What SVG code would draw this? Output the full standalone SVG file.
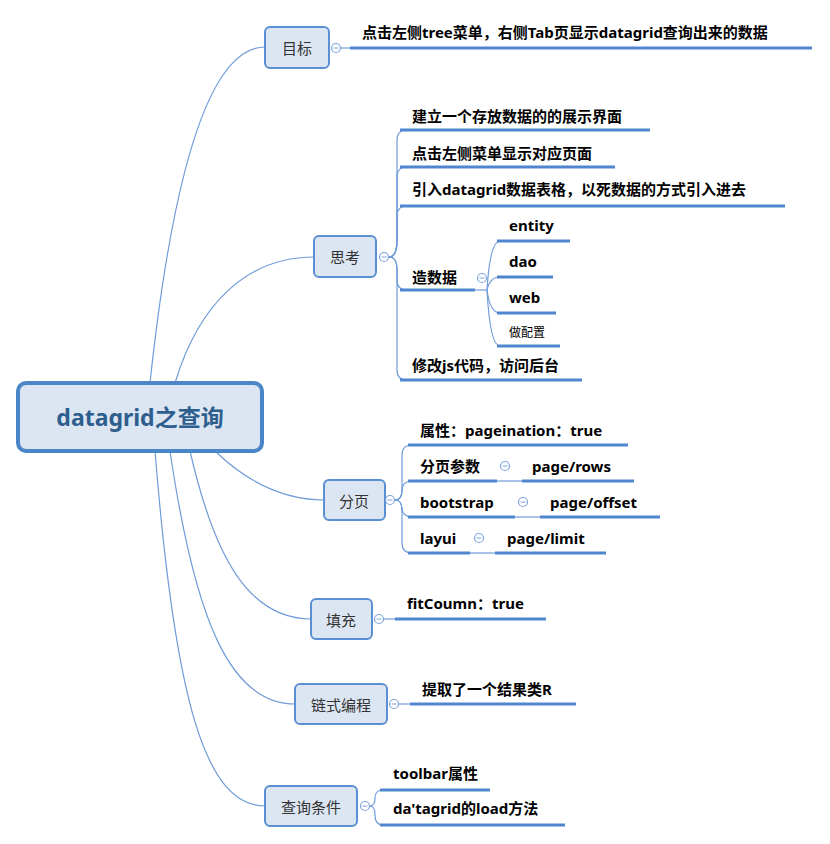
<svg xmlns="http://www.w3.org/2000/svg" width="830" height="844" viewBox="0 0 830 844">
<style>
.box{fill:#dce6f2;stroke:#5b8fd4;stroke-width:2}
.bt{font-family:"Microsoft YaHei","Noto Sans CJK SC",sans-serif;font-size:15px;fill:#333;text-anchor:middle;dominant-baseline:central}
.t{font-family:"Noto Sans","Noto Sans CJK SC",sans-serif;font-size:15px;font-weight:bold;fill:#000}
.ts{font-family:"Noto Sans","Noto Sans CJK SC",sans-serif;font-size:12px;fill:#000}
.ul{stroke:#4f86cf;stroke-width:3;fill:none}
.c{stroke:#6f9bd8;stroke-width:1.2;fill:none}
.col{fill:#fff;stroke:#7ea5dc;stroke-width:1.2}
</style>
<g id="connectors">
<path class="c" d="M150,383 C175,150 215,47 265,47"/>
<path class="c" d="M175,383 C200,300 250,257 314,257"/>
<path class="c" d="M215,451 C245,480 280,500 324,500"/>
<path class="c" d="M190,451 C215,560 250,619 311,619"/>
<path class="c" d="M170,451 C195,620 230,704 295,704"/>
<path class="c" d="M155,451 C175,700 205,806 265,806"/>
<line class="c" x1="334" y1="48" x2="350" y2="48"/>
<path class="c" d="M389,257 Q397,257 397,240 L397,140 Q397,130 407,130"/>
<path class="c" d="M389,257 Q397,257 397,240 L397,177 Q397,167 407,167"/>
<path class="c" d="M389,257 Q397,257 397,240 L397,216 Q397,206 407,206"/>
<path class="c" d="M389,257 Q397,257 397,270 L397,280 Q397,290 407,290"/>
<path class="c" d="M389,257 Q397,257 397,270 L397,370 Q397,380 407,380"/>
<path class="c" d="M475,290 L487,290"/>
<path class="c" d="M487,290 Q490,241 500,241"/>
<path class="c" d="M487,290 Q490,277 500,277"/>
<path class="c" d="M487,290 Q490,313 500,313"/>
<path class="c" d="M487,290 Q490,346 500,346"/>
<path class="c" d="M395,500 Q402,500 402,490 L402,455 Q402,445 412,445"/>
<path class="c" d="M395,500 Q402,500 402,490 L402,491 Q402,481 412,481"/>
<path class="c" d="M395,500 Q402,500 402,510 L402,507 Q402,517 412,517"/>
<path class="c" d="M395,500 Q402,500 402,510 L402,543 Q402,553 412,553"/>
<line class="c" x1="497" y1="481" x2="522" y2="481"/>
<line class="c" x1="515" y1="517" x2="540" y2="517"/>
<line class="c" x1="470" y1="553" x2="495" y2="553"/>
<line class="c" x1="384" y1="619" x2="395" y2="619"/>
<line class="c" x1="399" y1="704" x2="410" y2="704"/>
<path class="c" d="M370,806 Q375,806 375,798 Q375,790 383,790"/>
<path class="c" d="M370,806 Q375,806 375,815 Q375,825 383,825"/>
</g>
<g id="root">
<rect x="18" y="383" width="244" height="68" rx="8" fill="#dce6f2" stroke="#4a86c8" stroke-width="4"/>
<text x="140" y="417" font-family="Noto Sans,Noto Sans CJK SC,sans-serif" font-size="23" font-weight="bold" fill="#2e5e8e" text-anchor="middle" dominant-baseline="central">datagrid之查询</text>
</g>
<g id="n-mubiao">
<rect class="box" x="265" y="27" width="64" height="41" rx="5"/><text class="bt" x="297" y="47">目标</text>
<circle class="col" cx="336" cy="48" r="4.5"/><line x1="333.5" y1="48" x2="338.5" y2="48" stroke="#7ea5dc"/>
<line class="ul" x1="350" y1="48" x2="812" y2="48"/>
<text class="t" x="362" y="38">点击左侧tree菜单，右侧Tab页显示datagrid查询出来的数据</text>
</g>
<g id="n-sikao">
<rect class="box" x="314" y="236" width="62" height="41" rx="5"/><text class="bt" x="345" y="256">思考</text>
<circle class="col" cx="384" cy="257" r="4.5"/><line x1="381.5" y1="257" x2="386.5" y2="257" stroke="#7ea5dc"/>
<line class="ul" x1="400" y1="130" x2="650" y2="130"/><text class="t" x="412" y="122">建立一个存放数据的的展示界面</text>
<line class="ul" x1="400" y1="167" x2="615" y2="167"/><text class="t" x="412" y="159">点击左侧菜单显示对应页面</text>
<line class="ul" x1="400" y1="206" x2="785" y2="206"/><text class="t" x="412" y="195">引入datagrid数据表格，以死数据的方式引入进去</text>
<line class="ul" x1="400" y1="290" x2="475" y2="290"/><text class="t" x="412" y="283">造数据</text>
<circle class="col" cx="482" cy="278" r="4.5"/><line x1="479.5" y1="278" x2="484.5" y2="278" stroke="#7ea5dc"/>
<line class="ul" x1="497" y1="241" x2="570" y2="241"/><text class="t" x="509" y="231">entity</text>
<line class="ul" x1="497" y1="277" x2="553" y2="277"/><text class="t" x="509" y="267">dao</text>
<line class="ul" x1="497" y1="313" x2="556" y2="313"/><text class="t" x="509" y="303">web</text>
<line class="ul" x1="497" y1="346" x2="560" y2="346"/><text class="ts" x="509" y="337">做配置</text>
<line class="ul" x1="400" y1="380" x2="582" y2="380"/><text class="t" x="412" y="371">修改js代码，访问后台</text>
</g>
<g id="n-fenye">
<rect class="box" x="324" y="480" width="61" height="40" rx="5"/><text class="bt" x="354" y="500">分页</text>
<circle class="col" cx="390" cy="500" r="4.5"/><line x1="387.5" y1="500" x2="392.5" y2="500" stroke="#7ea5dc"/>
<line class="ul" x1="408" y1="445" x2="628" y2="445"/><text class="t" x="420" y="436">属性：pageination：true</text>
<line class="ul" x1="408" y1="481" x2="497" y2="481"/><text class="t" x="420" y="472">分页参数</text>
<circle class="col" cx="505" cy="466" r="4.5"/><line x1="502.5" y1="466" x2="507.5" y2="466" stroke="#7ea5dc"/>
<line class="ul" x1="522" y1="481" x2="634" y2="481"/><text class="t" x="532" y="472">page/rows</text>
<line class="ul" x1="408" y1="517" x2="515" y2="517"/><text class="t" x="420" y="508">bootstrap</text>
<circle class="col" cx="523" cy="502" r="4.5"/><line x1="520.5" y1="502" x2="525.5" y2="502" stroke="#7ea5dc"/>
<line class="ul" x1="540" y1="517" x2="660" y2="517"/><text class="t" x="550" y="508">page/offset</text>
<line class="ul" x1="408" y1="553" x2="470" y2="553"/><text class="t" x="420" y="544">layui</text>
<circle class="col" cx="479" cy="538" r="4.5"/><line x1="476.5" y1="538" x2="481.5" y2="538" stroke="#7ea5dc"/>
<line class="ul" x1="495" y1="553" x2="606" y2="553"/><text class="t" x="507" y="544">page/limit</text>
</g>
<g id="n-tianchong">
<rect class="box" x="311" y="599" width="61" height="40" rx="5"/><text class="bt" x="341" y="619">填充</text>
<circle class="col" cx="379" cy="619" r="4.5"/><line x1="376.5" y1="619" x2="381.5" y2="619" stroke="#7ea5dc"/>
<line class="ul" x1="395" y1="619" x2="546" y2="619"/><text class="t" x="407" y="609">fitCoumn：true</text>
</g>
<g id="n-lianshi">
<rect class="box" x="295" y="684" width="92" height="40" rx="5"/><text class="bt" x="341" y="704">链式编程</text>
<circle class="col" cx="394" cy="704" r="4.5"/><line x1="391.5" y1="704" x2="396.5" y2="704" stroke="#7ea5dc"/>
<line class="ul" x1="410" y1="704" x2="576" y2="704"/><text class="t" x="422" y="695">提取了一个结果类R</text>
</g>
<g id="n-chaxun">
<rect class="box" x="265" y="786" width="92" height="40" rx="5"/><text class="bt" x="311" y="806">查询条件</text>
<circle class="col" cx="365" cy="806" r="4.5"/><line x1="362.5" y1="806" x2="367.5" y2="806" stroke="#7ea5dc"/>
<line class="ul" x1="380" y1="790" x2="490" y2="790"/><text class="t" x="393" y="779">toolbar属性</text>
<line class="ul" x1="380" y1="825" x2="565" y2="825"/><text class="t" x="393" y="814">da'tagrid的load方法</text>
</g>
</svg>
